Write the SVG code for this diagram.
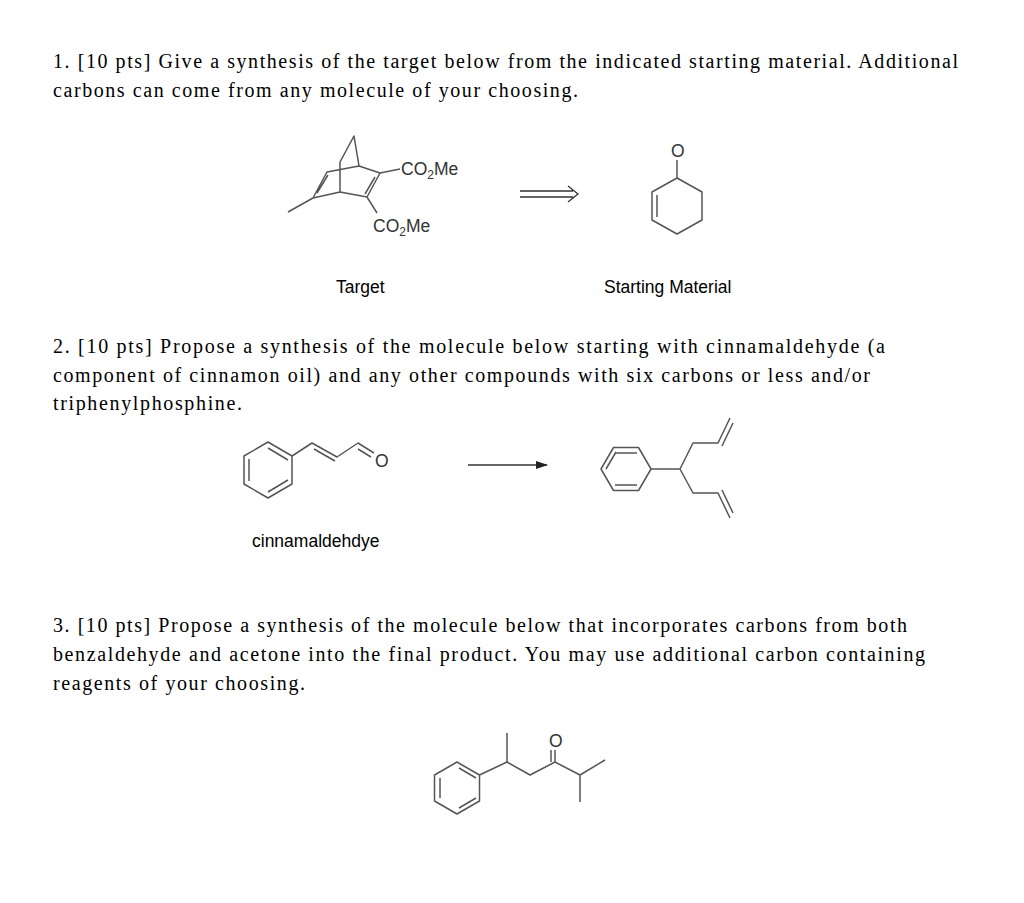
<svg xmlns="http://www.w3.org/2000/svg" width="1024" height="903" viewBox="0 0 1024 903">
<style>
.q{font-family:"Liberation Serif",serif;font-size:20px;fill:#000}
.s{font-family:"Liberation Sans",sans-serif;font-size:17.5px;fill:#000}
.a{font-family:"Liberation Sans",sans-serif;font-size:17.5px;fill:#333}
.b{stroke:#555;stroke-width:1.5;fill:none;stroke-linejoin:round}
</style>
<defs><marker id="ah" markerWidth="12" markerHeight="8" refX="11" refY="4" orient="auto" markerUnits="userSpaceOnUse"><path d="M0,0L12,4L0,8Z" fill="#222"/></marker></defs>
<rect width="1024" height="903" fill="#fff"/>
<g id="texts">
<text class="q" x="53" y="68" textLength="905" lengthAdjust="spacing">1. [10 pts] Give a synthesis of the target below from the indicated starting material.  Additional</text>
<text class="q" x="53" y="97" textLength="525" lengthAdjust="spacing">carbons can come from any molecule of your choosing.</text>
<text class="s" x="336" y="293">Target</text>
<text class="s" x="604" y="293">Starting Material</text>
<text class="q" x="53" y="353" textLength="832" lengthAdjust="spacing">2. [10 pts] Propose a synthesis of the molecule below starting with cinnamaldehyde (a</text>
<text class="q" x="53" y="382" textLength="817" lengthAdjust="spacing">component of cinnamon oil) and any other compounds with six carbons or less and/or</text>
<text class="q" x="53" y="410" textLength="189" lengthAdjust="spacing">triphenylphosphine.</text>
<text class="s" x="252" y="547">cinnamaldehdye</text>
<text class="q" x="53" y="632" textLength="854" lengthAdjust="spacing">3. [10 pts] Propose a synthesis of the molecule below that incorporates carbons from both</text>
<text class="q" x="53" y="661" textLength="872" lengthAdjust="spacing">benzaldehyde and acetone into the final product. You may use additional carbon containing</text>
<text class="q" x="53" y="690" textLength="252" lengthAdjust="spacing">reagents of your choosing.</text>
</g>
<g id="target">
<path class="b" d="M340,192L340,162L354,136L359,166L380,173L367,197L340,192L313,198L327,172L359,166M313,198L288,212M375,177L365,194M317,193L328,175M380,173L400,169M367,197L377,213"/>
<text class="a" x="401" y="175">CO<tspan font-size="12" dy="4">2</tspan><tspan dy="-4">Me</tspan></text>
<text class="a" x="373" y="232">CO<tspan font-size="12" dy="4">2</tspan><tspan dy="-4">Me</tspan></text>
</g>
<g id="start1">
<path class="b" d="M677,178L702,192L702,220L677,234L652,220L652,192ZM657,195L657,217M677,178L677,160"/>
<text class="a" x="671" y="157">O</text>
</g>
<g id="cinnamaldehyde">
<path class="b" d="M268,442L292,456L292,484L268,498L244,484L244,456ZM249,459L249,481M268,448L288,460M268,492L288,480M292,456L312,443L337,457L358,443L374,453M314,449L335,461M358,449L371,457"/>
<text class="a" x="375" y="467">O</text>
</g>
<g id="product2">
<path class="b" d="M601,469L613.5,447.5L638.5,447.5L651,469L638.5,490.5L613.5,490.5ZM615,453L637,453M615,485L637,485M606,469L616,452M651,469L680,469L693,443L718,443L730,418M680,469L693,493L718,493L730,518M722,446L733,423M722,490L733,513"/>
</g>
<g id="product3">
<path class="b" d="M457,762L479.5,775L479.5,801L457,814L434.5,801L434.5,775ZM440,778L440,798M459,768L476,778M459,808L476,798M479.5,775L507,762L507,733M507,762L530,775L555,762L555,750M555,762L580,775L605,760M580,775L580,802M551,750L551,762"/>
<text class="a" x="549" y="747">O</text>
</g>
<g id="connectors">
<path d="M520,191L573,191M520,197L573,197M568,186L578,194L568,202" stroke="#333" stroke-width="1.3" fill="none"/>
<line x1="468" y1="465" x2="547" y2="465" stroke="#333" stroke-width="1.3" marker-end="url(#ah)"/>
</g>
</svg>
